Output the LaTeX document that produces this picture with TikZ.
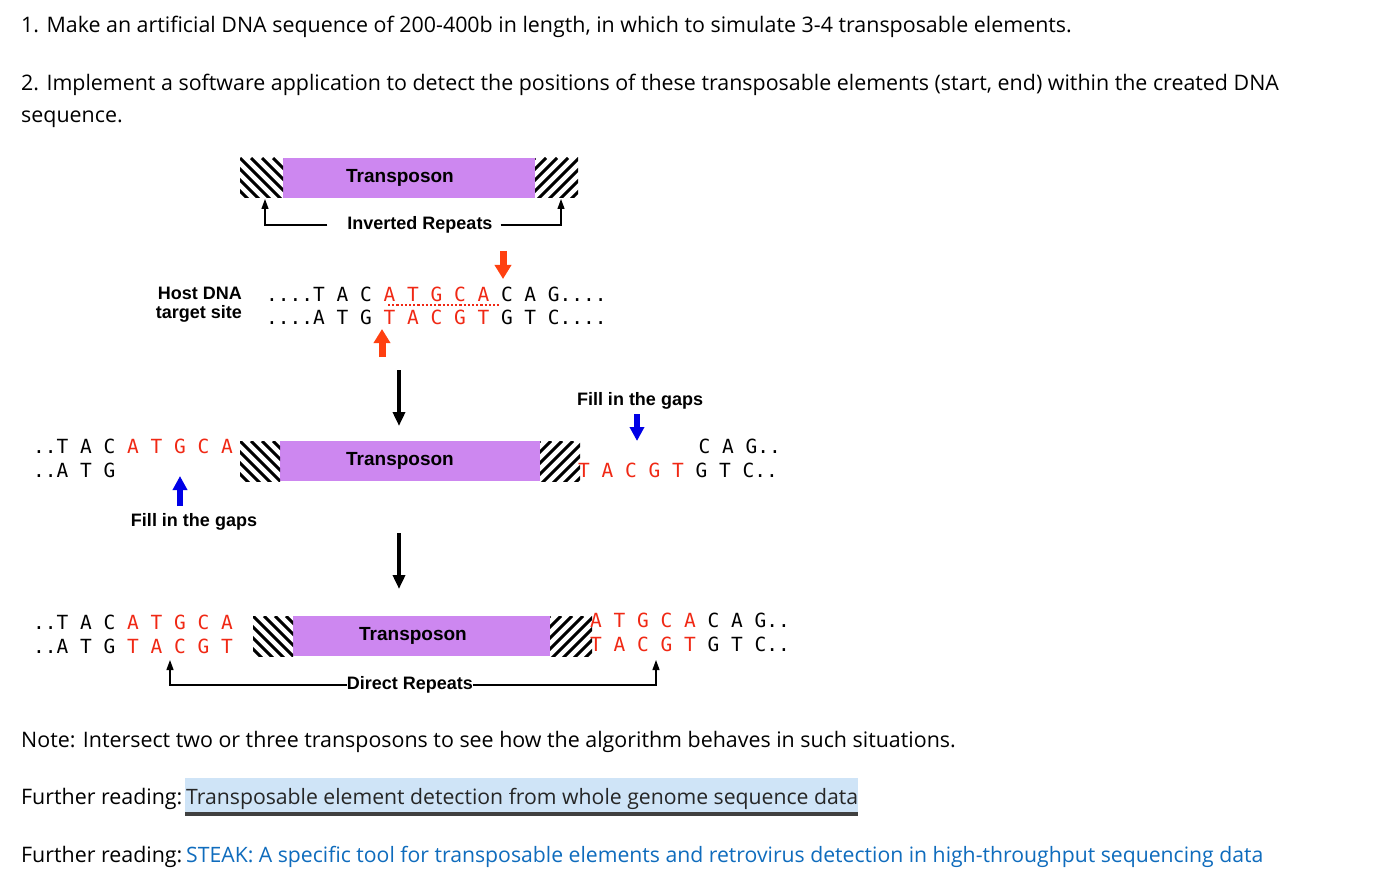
\documentclass[tikz,border=0pt]{standalone}
\usepackage{fontspec}
\setmainfont{Open Sans}
\newfontfamily\dna{DejaVu Sans Mono}
\newfontfamily\lab{Liberation Sans}
\usetikzlibrary{arrows.meta}
\definecolor{tred}{RGB}{240,40,20}
\definecolor{ared}{RGB}{255,64,16}
\definecolor{tblue}{RGB}{0,0,230}
\definecolor{purp}{RGB}{205,135,240}
\definecolor{link}{RGB}{15,108,189}
\definecolor{hl}{RGB}{207,228,247}
\newcommand\R[1]{\textcolor{tred}{#1}}
\newcommand\hatch[5]{% x1 y1 x2 y2 dir(1 = \, -1 = /)
  \begin{scope}
  \clip (#1,#2) rectangle (#3,#4);
  \foreach \i in {-66,-55,...,88}{\draw[line width=3pt] ({#1+\i},#2) -- ({#1+\i+#5*50},{#2+50});}
  \end{scope}}
\begin{document}
\begin{tikzpicture}[x=1pt,y=-1pt,
  body/.style={anchor=west,inner sep=0,font=\fontsize{21.4}{25}\selectfont},
  bl/.style={inner sep=0,font=\lab\bfseries\fontsize{18}{20}\selectfont},
  seq/.style={anchor=west,inner sep=0,font=\dna\fontsize{19.5}{22}\selectfont},
  tp/.style={inner sep=0,font=\lab\bfseries\fontsize{19}{22}\selectfont},
  up/.style={-{Triangle[width=7pt,length=10pt]},line width=1.2pt},
  big/.style={-{Triangle[width=12pt,length=14pt]},line width=4pt},
  lnk/.style={body,text=link,font=\fontsize{21.2}{25}\selectfont}]
\useasboundingbox (0,0) rectangle (1376,877);
\fill[white] (0,0) rectangle (1376,877);
% body text
\node[body] (t1) at (21,27) {1. Make an artificial DNA sequence of 200-400b in length, in which to simulate 3-4 transposable elements.};
\node[body] (t2) at (21,85) {2. Implement a software application to detect the positions of these transposable elements (start, end) within the created DNA};
\node[body] (t3) at (21,119) {sequence.};
\node[body] (n1) at (21,742) {Note: Intersect two or three transposons to see how the algorithm behaves in such situations.};
\fill[hl] (185,778) rectangle (858,813);
\fill[black!75] (185,812) rectangle (858,816);
\node[body] (f1) at (21,799) {Further reading: };
\node[lnk,text=black!85] (f1l) at (186,799) {Transposable element detection from whole genome sequence data};
\node[body] (f2) at (21,857) {Further reading: };
\node[lnk] (f2l) at (186,857) {STEAK: A specific tool for transposable elements and retrovirus detection in high-throughput sequencing data};
% top transposon
\fill[purp] (283,158) rectangle (535,198);
\hatch{240}{158}{283}{198}{1}
\hatch{535}{158}{578}{198}{-1}
\node[tp] (tp1) at (400,178) {Transposon};
\node[bl] (ir) at (420,225) {Inverted Repeats};
\coordinate (ira) at (265,199); \coordinate (irb) at (561,199);
\draw[up] (ir.west) ++(-20,0) -| (ira);
\draw[up] (ir.east) ++(8,0) -| (irb);
% host DNA
\node[bl,align=right,anchor=east] (host) at (242,305) {Host DNA\\[-1pt]target site};
\node[seq] (s1) at (266,294) {....T A C \R{A T G C A} C A G....};
\node[seq] (s2) at (266,317) {....A T G \R{T A C G T} G T C....};
\draw[tred,dotted,line width=2.2pt] (388,305) -- (500,305);
\coordinate (ra1) at (503,251); \coordinate (ra2) at (503,279);
\draw[ared,-{Triangle[width=16pt,length=14pt]},line width=7pt] (ra1) -- (ra2);
\coordinate (rb1) at (382,357); \coordinate (rb2) at (382,329);
\draw[ared,-{Triangle[width=16pt,length=14pt]},line width=7pt] (rb1) -- (rb2);
\coordinate (d1a) at (399,370); \coordinate (d1b) at (399,426);
\draw[big] (d1a) -- (d1b);
% middle row
\fill[purp] (280,441) rectangle (540,481);
\hatch{240}{441}{280}{481}{1}
\hatch{540}{441}{580}{481}{-1}
\node[tp] (tp2) at (400,461) {Transposon};
\node[seq] (m1) at (33,446) {..T A C \R{A T G C A}};
\node[seq] (m2) at (33,470) {..A T G};
\node[seq,anchor=east] (m3) at (781,446) {C A G..};
\node[seq] (m4) at (578,470) {\R{T A C G T} G T C..};
\node[bl] (fg1) at (640,401) {Fill in the gaps};
\node[bl] (fg2) at (194,522) {Fill in the gaps};
\coordinate (b1a) at (637,414); \coordinate (b1b) at (637,441);
\draw[tblue,-{Triangle[width=14pt,length=14pt]},line width=6pt] (b1a) -- (b1b);
\coordinate (b2a) at (180,506); \coordinate (b2b) at (180,476);
\draw[tblue,-{Triangle[width=14pt,length=14pt]},line width=6pt] (b2a) -- (b2b);
\coordinate (d2a) at (399,533); \coordinate (d2b) at (399,589);
\draw[big] (d2a) -- (d2b);
% bottom row
\fill[purp] (293,616) rectangle (550,656);
\hatch{253}{616}{293}{656}{1}
\hatch{550}{616}{592}{656}{-1}
\node[tp] (tp3) at (413,636) {Transposon};
\node[seq] (b1) at (33,622) {..T A C \R{A T G C A}};
\node[seq] (b2) at (33,646) {..A T G \R{T A C G T}};
\node[seq] (b3) at (590,620) {\R{A T G C A} C A G..};
\node[seq] (b4) at (590,644) {\R{T A C G T} G T C..};
\node[bl] (dr) at (410,685) {Direct Repeats};
\coordinate (dra) at (170,660); \coordinate (drb) at (656,660);
\draw[up] (dr.west) -| (dra);
\draw[up] (dr.east) -| (drb);
\end{tikzpicture}
\end{document}
